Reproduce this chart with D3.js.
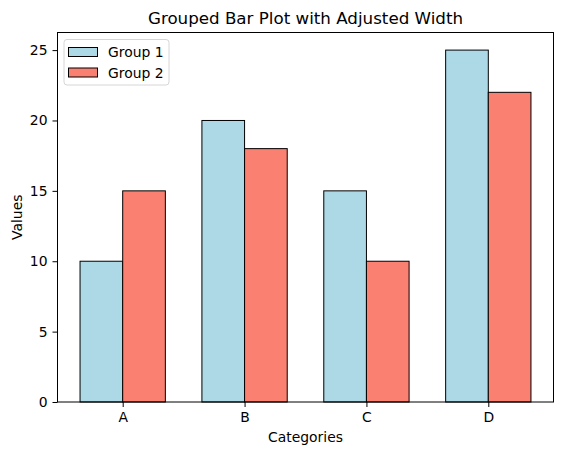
<!DOCTYPE html>
<html>
<head>
<meta charset="utf-8">
<script src="https://cdn.jsdelivr.net/npm/d3@7"></script>
<style>
  body { margin: 0; background: #fff; }
  text { font-family: "DejaVu Sans", sans-serif; }
</style>
</head>
<body>
<div id="chart"></div>
<script>
// chart data
const categories = ["A", "B", "C", "D"];
const group1 = [10, 20, 15, 25];
const group2 = [15, 18, 10, 22];
const seriesNames = ["Group 1", "Group 2"];
const yTicks = [0, 5, 10, 15, 20, 25];

const width = 562, height = 455;
const margin = { top: 32.5, right: 8.5, bottom: 53, left: 57.5 };
const barW = 0.35;
const colors = ["lightblue", "salmon"];

const svg = d3.select("#chart").append("svg")
  .attr("width", width)
  .attr("height", height);

// x: numeric positions like matplotlib, with 5% padding
const lo = -barW, hi = categories.length - 1 + barW;
const pad = (hi - lo) * 0.05;
const x = d3.scaleLinear()
  .domain([lo - pad, hi + pad])
  .range([margin.left, width - margin.right]);

const y = d3.scaleLinear()
  .domain([0, d3.max(group1.concat(group2)) * 1.05])
  .range([height - margin.bottom, margin.top]);

const series = [group1, group2];

// bars
series.forEach((vals, s) => {
  svg.append("g").selectAll("rect")
    .data(vals)
    .join("rect")
    .attr("x", (d, i) => x(i + (s === 0 ? -barW : 0)))
    .attr("y", d => y(d))
    .attr("width", x(barW) - x(0))
    .attr("height", d => y(0) - y(d))
    .attr("fill", colors[s])
    .attr("stroke", "black")
    .attr("stroke-width", 1);
});

// axes
const xAxis = svg.append("g")
  .attr("transform", `translate(0,${height - margin.bottom})`)
  .call(d3.axisBottom(x)
    .tickValues(d3.range(categories.length))
    .tickFormat(i => categories[i])
    .tickSize(5).tickPadding(5));

const yAxis = svg.append("g")
  .attr("transform", `translate(${margin.left},0)`)
  .call(d3.axisLeft(y).tickValues(yTicks).tickSize(5).tickPadding(5));

[xAxis, yAxis].forEach(g => {
  g.select(".domain").remove();
  g.selectAll("text").attr("font-size", 13.9).attr("fill", "black")
    .style("font-family", "DejaVu Sans");
  g.selectAll("line").attr("stroke", "black").attr("stroke-width", 1);
});

// frame
svg.append("rect")
  .attr("x", margin.left)
  .attr("y", margin.top)
  .attr("width", width - margin.left - margin.right)
  .attr("height", height - margin.top - margin.bottom)
  .attr("fill", "none")
  .attr("stroke", "black")
  .attr("stroke-width", 1);

// titles
svg.append("text")
  .attr("x", (margin.left + width - margin.right) / 2)
  .attr("y", 24)
  .attr("text-anchor", "middle")
  .attr("font-size", 16.7)
  .text("Grouped Bar Plot with Adjusted Width");

svg.append("text")
  .attr("x", (margin.left + width - margin.right) / 2)
  .attr("y", 442)
  .attr("text-anchor", "middle")
  .attr("font-size", 13.9)
  .text("Categories");

svg.append("text")
  .attr("transform", `translate(21.5,${(margin.top + height - margin.bottom) / 2}) rotate(-90)`)
  .attr("text-anchor", "middle")
  .attr("font-size", 13.9)
  .text("Values");

// legend
const legend = svg.append("g");
legend.append("rect")
  .attr("x", 64).attr("y", 39.5)
  .attr("width", 105).attr("height", 45.5)
  .attr("rx", 3)
  .attr("fill", "white").attr("fill-opacity", 0.8)
  .attr("stroke", "#d6d6d6");

seriesNames.forEach((name, i) => {
  const ly = 47.5 + i * 20.5;
  legend.append("rect")
    .attr("x", 68.5).attr("y", ly)
    .attr("width", 29).attr("height", 9)
    .attr("fill", colors[i]).attr("stroke", "black");
  legend.append("text")
    .attr("x", 108).attr("y", ly + 9.5)
    .attr("font-size", 13.9)
    .text(name);
});
</script>
</body>
</html>
